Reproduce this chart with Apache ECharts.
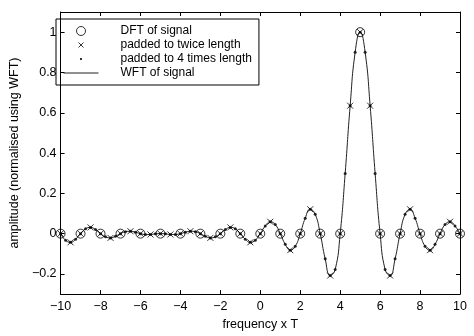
<!DOCTYPE html>
<html>
<head>
<meta charset="utf-8">
<script src="https://cdn.jsdelivr.net/npm/echarts@6/dist/echarts.min.js"></script>
<style>html,body{margin:0;padding:0;background:#fff;}</style>
</head>
<body>
<div id="main" style="width:474px;height:336px;"></div>
<script>
// frequency grid (4x padded), quarter steps
var freq = [
  -10, -9.75, -9.5, -9.25, -9, -8.75, -8.5, -8.25, -8, -7.75, -7.5, -7.25,
  -7, -6.75, -6.5, -6.25, -6, -5.75, -5.5, -5.25, -5, -4.75, -4.5, -4.25,
  -4, -3.75, -3.5, -3.25, -3, -2.75, -2.5, -2.25, -2, -1.75, -1.5, -1.25,
  -1, -0.75, -0.5, -0.25, 0, 0.25, 0.5, 0.75, 1, 1.25, 1.5, 1.75,
  2, 2.25, 2.5, 2.75, 3, 3.25, 3.5, 3.75, 4, 4.25, 4.5, 4.75,
  5, 5.25, 5.5, 5.75, 6, 6.25, 6.5, 6.75, 7, 7.25, 7.5, 7.75,
  8, 8.25, 8.5, 8.75, 9, 9.25, 9.5, 9.75, 10
];
// amplitude at each freq point
var amp = [
  0, -0.033, -0.043, -0.028, 0, 0.024, 0.031, 0.020, 0, -0.016, -0.021, -0.013,
  0, 0.010, 0.012, 0.007, 0, -0.004, -0.004, -0.001, 0, -0.001, -0.004, -0.004,
  0, 0.007, 0.012, 0.010, 0, -0.013, -0.021, -0.016, 0, 0.020, 0.031, 0.024,
  0, -0.028, -0.043, -0.033, 0, 0.038, 0.059, 0.045, 0, -0.053, -0.082, -0.063,
  0, 0.077, 0.121, 0.096, 0, -0.125, -0.208, -0.178, 0, 0.299, 0.635, 0.900,
  1, 0.900, 0.635, 0.299, 0, -0.178, -0.208, -0.125, 0, 0.096, 0.121, 0.077,
  0, -0.063, -0.082, -0.053, 0, 0.045, 0.059, 0.038, 0
];
var xTicks = [-10, -8, -6, -4, -2, 0, 2, 4, 6, 8, 10];
var yTicks = [-0.2, 0, 0.2, 0.4, 0.6, 0.8, 1];

var font = 'Liberation Sans';
var fmt = function (v) { return v < 0 ? '\u2212' + (-v) : '' + v; };

// every point of the 4x grid, every 2nd, every 4th
var pts4 = [], pts2 = [], pts1 = [];
for (var i = 0; i < freq.length; i++) {
  pts4.push([freq[i], amp[i]]);
  if (i % 2 === 0) pts2.push([freq[i], amp[i]]);
  if (i % 4 === 0) pts1.push([freq[i], amp[i]]);
}

var chart = echarts.init(document.getElementById('main'));
var axisLine = { show: true, onZero: false, lineStyle: { color: '#000', width: 1 } };
var tick = { show: true, inside: true, length: 4, lineStyle: { color: '#000' } };

chart.setOption({
  animation: false,
  backgroundColor: '#fff',
  grid: { left: 46, right: 14, top: 12, bottom: 33 },
  xAxis: [{
    type: 'value', min: -10, max: 10, interval: 2,
    axisLine: axisLine, axisTick: tick, splitLine: { show: false },
    axisLabel: { margin: 6, color: '#000', fontFamily: font, fontSize: 12.5, formatter: fmt, customValues: xTicks },
    name: 'frequency x T', nameLocation: 'middle', nameGap: 19,
    nameTextStyle: { color: '#000', fontFamily: font, fontSize: 12.5 }
  }, {
    type: 'value', position: 'top', min: -10, max: 10, interval: 2,
    axisLine: axisLine, axisTick: tick, splitLine: { show: false },
    axisLabel: { show: false }
  }],
  yAxis: [{
    type: 'value', min: -0.3, max: 1.1,
    axisLine: axisLine, splitLine: { show: false },
    axisTick: { show: true, inside: true, length: 4, lineStyle: { color: '#000' }, customValues: yTicks },
    axisLabel: { margin: 4, color: '#000', fontFamily: font, fontSize: 12.5, formatter: fmt, customValues: yTicks },
    name: 'amplitude (normalised using WFT)', nameLocation: 'middle', nameGap: 29,
    nameTextStyle: { color: '#000', fontFamily: font, fontSize: 12.5 }
  }, {
    type: 'value', position: 'right', min: -0.3, max: 1.1,
    axisLine: axisLine, splitLine: { show: false },
    axisTick: { show: true, inside: true, length: 4, lineStyle: { color: '#000' }, customValues: yTicks },
    axisLabel: { show: false }
  }],
  legend: {
    orient: 'vertical', left: 56, top: 19,
    padding: [6, 7, 6, 7],
    borderColor: '#000', borderWidth: 1,
    itemWidth: 35, itemHeight: 9, itemGap: 2,
    itemStyle: { borderWidth: 1 },
    lineStyle: { width: 1 },
    textStyle: { color: '#000', fontFamily: font, fontSize: 12, lineHeight: 12, padding: [0, 0, 0, 17] },
    data: [
      { name: 'DFT of signal' },
      { name: 'padded to twice length', icon: 'path://M0,0M9,9M2,2L7,7M7,2L2,7' },
      { name: 'padded to 4 times length', icon: 'path://M0,0M9,9M3.5,3.5L5.5,3.5L5.5,5.5L3.5,5.5Z',
        itemStyle: { color: '#000', borderWidth: 0 } },
      { name: 'WFT of signal', itemStyle: { opacity: 0 } }
    ]
  },
  series: [{
    name: 'WFT of signal', type: 'line', data: pts4, smooth: 0.5,
    symbol: 'none', color: '#222', lineStyle: { color: '#222', width: 1 }, z: 2
  }, {
    name: 'padded to 4 times length', type: 'scatter', data: pts4,
    symbol: 'circle', symbolSize: 3, itemStyle: { color: '#000' }, z: 3
  }, {
    name: 'padded to twice length', type: 'scatter', data: pts2,
    symbol: 'path://M0,0L6,6M6,0L0,6', symbolSize: 6,
    itemStyle: { color: '#000', borderColor: '#000', borderWidth: 1 }, z: 4
  }, {
    name: 'DFT of signal', type: 'scatter', data: pts1,
    symbol: 'circle', symbolSize: 9,
    itemStyle: { color: 'rgba(0,0,0,0)', borderColor: '#000', borderWidth: 1 }, z: 5
  }]
});
</script>
</body>
</html>
